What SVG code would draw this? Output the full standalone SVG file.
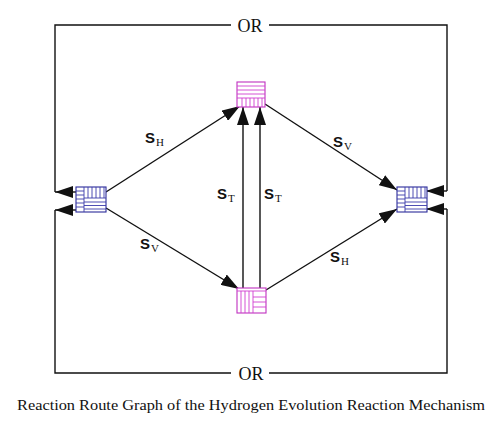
<svg xmlns="http://www.w3.org/2000/svg" width="500" height="428" viewBox="0 0 500 428">
<style>
.ln{stroke:#111;stroke-width:1.4;fill:none}
.ar{stroke:#111;stroke-width:1.4;fill:none;marker-end:url(#ah)}
.bl{stroke:#2a2a9a;stroke-width:1.1;fill:#fff}
.bi{stroke:#3a3aaa;stroke-width:0.9;fill:none}
.mg{stroke:#c030c0;stroke-width:1.1;fill:#fff}
.mi{stroke:#d040d0;stroke-width:0.9;fill:none}
.s{font-family:"Liberation Sans",Arial,sans-serif;font-size:15px;font-weight:bold;fill:#111}
.sub{font-family:"Liberation Serif","Times New Roman",serif;font-size:11px;font-weight:normal;fill:#111}
.or{font-family:"Liberation Serif","Times New Roman",serif;font-size:18px;fill:#111}
.cap{font-family:"Liberation Serif","Times New Roman",serif;font-size:15px;fill:#111}
</style>
<defs>
<marker id="ah" markerUnits="userSpaceOnUse" markerWidth="18" markerHeight="12" refX="18" refY="6" orient="auto">
<path d="M0,0 L18,6 L0,12 z" fill="#111"/>
</marker>
<g id="bsym">
<rect class="bl" x="0" y="0" width="30" height="25"/>
<path class="bi" d="M8,0 V25 M8,11 H30 M0,4 H8 M0,8 H8 M0,12 H8 M0,16 H8 M0,20 H8 M12,0 V11 M16,0 V11 M20,0 V11 M24,0 V11 M28,0 V11 M8,15 H30 M8,18.5 H30 M8,22 H30"/>
</g>
</defs>
<rect width="500" height="428" fill="#fff"/>
<g id="connectors">
<path class="ln" d="M231,25 H55 V192"/>
<path class="ln" d="M269,25 H447 V191"/>
<path class="ln" d="M231,373 H55 V210"/>
<path class="ln" d="M269,373 H447 V209"/>
<line class="ar" x1="76" y1="192" x2="55" y2="192"/>
<line class="ar" x1="76" y1="210" x2="55" y2="210"/>
<line class="ar" x1="447" y1="191" x2="426" y2="191"/>
<line class="ar" x1="447" y1="209" x2="426" y2="209"/>
<line class="ar" x1="106" y1="192" x2="240" y2="106"/>
<line class="ar" x1="265" y1="104" x2="397" y2="190"/>
<line class="ar" x1="106" y1="208" x2="239" y2="289"/>
<line class="ar" x1="266" y1="290" x2="397" y2="209"/>
<line class="ar" x1="243" y1="288" x2="243" y2="107"/>
<line class="ar" x1="260" y1="288" x2="260" y2="107"/>
</g>
<g id="labels">
<text class="or" x="250" y="32" text-anchor="middle">OR</text>
<text class="or" x="251" y="380" text-anchor="middle">OR</text>
<text class="s" x="145" y="143">S<tspan class="sub" dx="1" dy="3">H</tspan></text>
<text class="s" x="333" y="147">S<tspan class="sub" dx="1" dy="3">V</tspan></text>
<text class="s" x="217" y="199">S<tspan class="sub" dx="1" dy="3">T</tspan></text>
<text class="s" x="264" y="199">S<tspan class="sub" dx="1" dy="3">T</tspan></text>
<text class="s" x="140" y="249">S<tspan class="sub" dx="1" dy="3">V</tspan></text>
<text class="s" x="330" y="262">S<tspan class="sub" dx="1" dy="3">H</tspan></text>
<text class="cap" x="17" y="410" textLength="468" lengthAdjust="spacingAndGlyphs">Reaction Route Graph of the Hydrogen Evolution Reaction Mechanism</text>
</g>
<g id="node-left"><use href="#bsym" x="76" y="187"/></g>
<g id="node-right"><use href="#bsym" x="397" y="187"/></g>
<g id="node-top">
<rect class="mg" x="237" y="82" width="28" height="25"/>
<path class="mi" d="M237,98 H265 M237,86 H265 M237,90 H265 M237,94 H265 M242,98 V107 M246,98 V107 M250,98 V107 M254,98 V107 M258,98 V107 M262,98 V107"/>
</g>
<g id="node-bottom">
<rect class="mg" x="237" y="288" width="29" height="25"/>
<path class="mi" d="M237,291 H266 M253,291 V313 M241,291 V313 M245,291 V313 M249,291 V313 M253,297 H266 M253,302 H266 M253,307 H266"/>
</g>
</svg>
